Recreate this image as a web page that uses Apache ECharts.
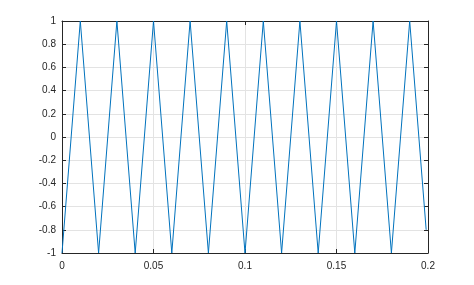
<!DOCTYPE html>
<html>
<head>
<meta charset="utf-8">
<script src="https://cdn.jsdelivr.net/npm/echarts@6/dist/echarts.min.js"></script>
<style>html,body{margin:0;padding:0;background:#fff}#c{width:474px;height:285px}</style>
</head>
<body>
<div id="c"></div>
<script>
// Triangle-wave vertices
var xValues = [0, 0.01, 0.02, 0.03, 0.04, 0.05, 0.06, 0.07, 0.08, 0.09, 0.10, 0.11, 0.12, 0.13, 0.14, 0.15, 0.16, 0.17, 0.18, 0.19, 0.199];
var yValues = [-1, 1, -1, 1, -1, 1, -1, 1, -1, 1, -1, 1, -1, 1, -1, 1, -1, 1, -1, 1, -0.8];
var xTicks = [0, 0.05, 0.1, 0.15, 0.2];
var yTicks = [-1, -0.8, -0.6, -0.4, -0.2, 0, 0.2, 0.4, 0.6, 0.8, 1];

var data = xValues.map(function (x, i) { return [x, yValues[i]]; });
var axisColor = '#262626';
var font = 'Arial, "Liberation Sans", Helvetica, sans-serif';
function fmt(v) { return String(Math.round(v * 100) / 100); }

var chart = echarts.init(document.getElementById('c'), null, {renderer: 'canvas'});
chart.setOption({
  animation: false,
  backgroundColor: '#ffffff',
  grid: {left: 62, right: 46, top: 21, bottom: 32, containLabel: false},
  xAxis: [{
    type: 'value', min: xTicks[0], max: xTicks[xTicks.length - 1], interval: 0.05,
    axisLine: {show: true, onZero: false, lineStyle: {color: axisColor, width: 1}},
    axisTick: {show: true, inside: true, length: 4, lineStyle: {color: axisColor}},
    axisLabel: {color: axisColor, fontSize: 10, fontFamily: font, margin: 8, formatter: fmt},
    splitLine: {show: true, lineStyle: {color: '#e3e3e3', width: 1}}
  }, {
    type: 'value', position: 'top', min: xTicks[0], max: xTicks[xTicks.length - 1], interval: 0.05,
    axisLine: {show: true, onZero: false, lineStyle: {color: axisColor, width: 1}},
    axisTick: {show: true, inside: true, length: 4, lineStyle: {color: axisColor}},
    axisLabel: {show: false}, splitLine: {show: false}
  }],
  yAxis: [{
    type: 'value', min: yTicks[0], max: yTicks[yTicks.length - 1], interval: 0.2,
    axisLine: {show: true, onZero: false, lineStyle: {color: axisColor, width: 1}},
    axisTick: {show: true, inside: true, length: 4, lineStyle: {color: axisColor}},
    axisLabel: {color: axisColor, fontSize: 10, fontFamily: font, margin: 6, formatter: fmt},
    splitLine: {show: true, lineStyle: {color: '#e3e3e3', width: 1}}
  }, {
    type: 'value', position: 'right', min: yTicks[0], max: yTicks[yTicks.length - 1], interval: 0.2,
    axisLine: {show: true, onZero: false, lineStyle: {color: axisColor, width: 1}},
    axisTick: {show: true, inside: true, length: 4, lineStyle: {color: axisColor}},
    axisLabel: {show: false}, splitLine: {show: false}
  }],
  series: [{
    type: 'line', data: data, xAxisIndex: 0, yAxisIndex: 0,
    showSymbol: false, symbol: 'none',
    lineStyle: {color: '#0072BD', width: 1},
    itemStyle: {color: '#0072BD'}
  }]
});
</script>
</body>
</html>
